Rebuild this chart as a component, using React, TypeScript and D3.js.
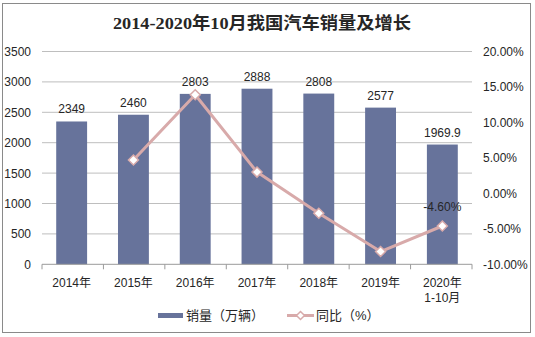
import React from "react";
import * as d3 from "d3";

const categories = ["2014年", "2015年", "2016年", "2017年", "2018年", "2019年", "2020年\n1-10月"];
const salesValues = [2349, 2460, 2803, 2888, 2808, 2577, 1969.9];
const salesLabels = ["2349", "2460", "2803", "2888", "2808", "2577", "1969.9"];
const growthValues: (number | null)[] = [null, 4.7, 13.9, 3.0, -2.8, -8.2, -4.6];
const leftTicks = [0, 500, 1000, 1500, 2000, 2500, 3000, 3500];
const rightTicks = [-10, -5, 0, 5, 10, 15, 20];
const title = "2014-2020年10月我国汽车销量及增长";
const legendBar = "销量（万辆）";
const legendLine = "同比（%）";

const W = 535;
const H = 337;
const left = 42;
const right = 472;
const top = 51.5;
const bottom = 264.3;

const BAR = "#67739B";
const LINE = "#D8AAAA";
const GRID = "#BEBEBE";
const TEXT = "#262626";
const SANS = "'Liberation Sans', Arial, 'Noto Sans CJK SC', sans-serif";

export default function App() {
  const x = d3.scaleBand<string>().domain(categories).range([left, right]).paddingInner(0.5).paddingOuter(0.23);
  const yL = d3.scaleLinear().domain([0, 3500]).range([bottom, top]);
  const yR = d3.scaleLinear().domain([-10, 20]).range([bottom, top]);
  const tickStep = (right - left) / categories.length;

  const linePts: [number, number][] = [];
  growthValues.forEach((v, i) => {
    if (v !== null) linePts.push([x(categories[i])! + x.bandwidth() / 2, yR(v)]);
  });
  const lineGen = d3.line();

  const diamond = (cx: number, cy: number, r: number) =>
    `M${cx},${cy - r}L${cx + r},${cy}L${cx},${cy + r}L${cx - r},${cy}Z`;

  return (
    <svg width={W} height={H} style={{ position: "absolute", left: 0, top: 0, background: "#fff" }}>
      <rect x={2.5} y={3.5} width={528} height={329} fill="#fff" stroke="#8a8a8a" strokeWidth={1} />
      <text
        x={262}
        y={29}
        textAnchor="middle"
        fontFamily="'Liberation Serif', 'Noto Sans CJK SC', serif"
        fontWeight="bold"
        fontSize={17}
        fill={TEXT}
        textLength={298}
        lengthAdjust="spacingAndGlyphs"
      >
        {title}
      </text>

      {leftTicks.map((t) => (
        <g key={"g" + t}>
          {t !== 0 && (
            <line x1={left} x2={right} y1={yL(t)} y2={yL(t)} stroke={GRID} strokeWidth={1} />
          )}
          <text x={31} y={yL(t) + 4.5} textAnchor="end" fontFamily={SANS} fontSize={12} fill={TEXT}>
            {t}
          </text>
        </g>
      ))}
      {rightTicks.map((t) => (
        <text key={"r" + t} x={483} y={yR(t) + 4.5} textAnchor="start" fontFamily={SANS} fontSize={12} fill={TEXT}>
          {t.toFixed(2) + "%"}
        </text>
      ))}

      {categories.map((c, i) => (
        <rect
          key={"b" + c}
          x={x(c)}
          y={yL(salesValues[i])}
          width={x.bandwidth()}
          height={yL(0) - yL(salesValues[i])}
          fill={BAR}
        />
      ))}

      <line x1={left} x2={right} y1={bottom} y2={bottom} stroke="#9a9a9a" strokeWidth={1} />
      {d3.range(categories.length + 1).map((i) => (
        <line
          key={"t" + i}
          x1={left + i * tickStep}
          x2={left + i * tickStep}
          y1={bottom}
          y2={bottom + 5}
          stroke="#9a9a9a"
          strokeWidth={1}
        />
      ))}

      {categories.map((c, i) => {
        const cx = x(c)! + x.bandwidth() / 2;
        const lines = c.split("\n");
        return (
          <text key={"x" + c} x={cx} y={287} textAnchor="middle" fontFamily={SANS} fontSize={12} fill={TEXT}>
            {lines.map((l, k) => (
              <tspan key={k} x={cx} dy={k === 0 ? 0 : 15}>
                {l}
              </tspan>
            ))}
          </text>
        );
      })}

      {categories.map((c, i) => (
        <text
          key={"l" + c}
          x={x(c)! + x.bandwidth() / 2}
          y={yL(salesValues[i]) - 8}
          textAnchor="middle"
          fontFamily={SANS}
          fontSize={12}
          fill={TEXT}
        >
          {salesLabels[i]}
        </text>
      ))}

      <path d={lineGen(linePts) || ""} fill="none" stroke={LINE} strokeWidth={3} strokeLinejoin="round" />
      {linePts.map((p, i) => (
        <path key={"m" + i} d={diamond(p[0], p[1], 5)} fill="#fff" stroke={LINE} strokeWidth={1.5} />
      ))}
      <text
        x={linePts[linePts.length - 1][0]}
        y={yR(growthValues[6] as number) - 15}
        textAnchor="middle"
        fontFamily={SANS}
        fontSize={12}
        fill={TEXT}
      >
        {(growthValues[6] as number).toFixed(2) + "%"}
      </text>

      <rect x={158} y={313} width={25} height={5} fill={BAR} />
      <text x={186} y={320} fontFamily={SANS} fontSize={13} fill={TEXT}>
        {legendBar}
      </text>
      <line x1={287} x2={314} y1={315.5} y2={315.5} stroke={LINE} strokeWidth={3} />
      <path d={diamond(300.5, 315.5, 4)} fill="#fff" stroke={LINE} strokeWidth={1.5} />
      <text x={316} y={320} fontFamily={SANS} fontSize={13} fill={TEXT}>
        {legendLine}
      </text>
    </svg>
  );
}
